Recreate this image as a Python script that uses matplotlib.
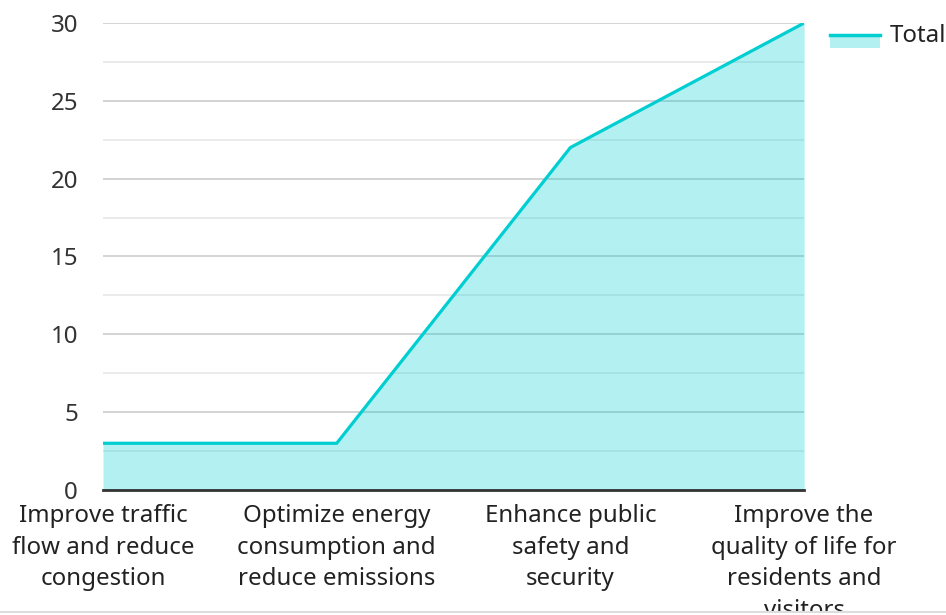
import matplotlib.pyplot as plt
from matplotlib.patches import Rectangle
from matplotlib.lines import Line2D

categories = [
    "Improve traffic\nflow and reduce\ncongestion",
    "Optimize energy\nconsumption and\nreduce emissions",
    "Enhance public\nsafety and\nsecurity",
    "Improve the\nquality of life for\nresidents and\nvisitors",
]
totals = [3, 3, 22, 30]
yticks = [0, 5, 10, 15, 20, 25, 30]
minor_yticks = [2.5, 7.5, 12.5, 17.5, 22.5, 27.5]

plt.rcParams['font.family'] = ['Noto Sans', 'DejaVu Sans']
line_color = '#00CED1'

fig = plt.figure(figsize=(9.46, 6.15), dpi=100)
ax = fig.add_axes([0.1089, 0.2033, 0.7411, 0.7593])

x = list(range(len(categories)))
ax.fill_between(x, totals, 0, color=line_color, alpha=0.3, linewidth=0, zorder=2)
ax.plot(x, totals, color=line_color, linewidth=2.3, zorder=3, solid_capstyle='butt')

ax.set_xlim(0, len(categories) - 1)
ax.set_ylim(0, 30)
ax.set_xticks(x)
ax.set_xticklabels(categories, fontsize=17.3, color='#222222', linespacing=1.43)
ax.set_yticks(yticks)
ax.set_yticklabels([str(v) for v in yticks], fontsize=17.3, color='#333333')
ax.set_yticks(minor_yticks, minor=True)
ax.tick_params(axis='both', which='both', length=0)
ax.tick_params(axis='y', pad=18)
ax.tick_params(axis='x', pad=10)
ax.grid(axis='y', which='major', color='#c8c8c8', linewidth=1.1, zorder=1)
ax.grid(axis='y', which='minor', color='#e6e6e6', linewidth=1.1, zorder=1)
ax.set_axisbelow(True)
for s in ['top', 'right', 'left']:
    ax.spines[s].set_visible(False)
ax.spines['bottom'].set_color('#333333')
ax.spines['bottom'].set_linewidth(2)
ax.spines['bottom'].set_zorder(4)

# legend
fig.add_artist(Rectangle((830 / 946, 1 - 48 / 615), 50 / 946, 13 / 615,
                         facecolor=line_color, alpha=0.3, edgecolor='none'))
fig.add_artist(Line2D([830 / 946, 880 / 946], [1 - 35 / 615, 1 - 35 / 615],
                      color=line_color, linewidth=2.5))
fig.text(890 / 946, 1 - 36 / 615, "Total", fontsize=17.3, color='#222222', va='center')

# bottom border, clipping the last label
fig.add_artist(Rectangle((0, 0), 1, 3 / 615, facecolor='white', edgecolor='none', zorder=10))
fig.add_artist(Line2D([0, 1], [3 / 615, 3 / 615], color='#dddddd', linewidth=1.5, zorder=11))

fig.savefig("out.png", dpi=100)
